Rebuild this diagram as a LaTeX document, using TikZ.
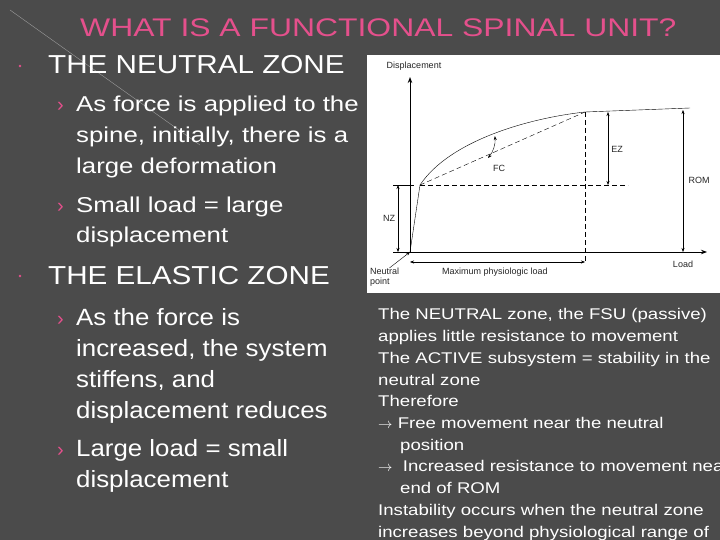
\documentclass[tikz,border=0pt]{standalone}
\usepackage{fontspec}
\setmainfont{Liberation Sans}
\newfontfamily\stA[FakeStretch=1.25]{Liberation Sans}
\newfontfamily\stB[FakeStretch=1.14]{Liberation Sans}
\newfontfamily\stC[FakeStretch=1.2]{Liberation Sans}
\newfontfamily\stD[FakeStretch=1.1]{Liberation Sans}
\usetikzlibrary{arrows.meta}
\definecolor{bg}{HTML}{4B4B4B}
\definecolor{pinkc}{HTML}{E4508C}
\begin{document}
\begin{tikzpicture}[x=1pt,y=-1pt,
  lt/.style={anchor=base west,inner sep=0,text=white},
  gl/.style={inner sep=0,font=\fontsize{9}{10}\selectfont,text=black!85},
  dsh/.style={dash pattern=on 5pt off 3pt,thin},
  dar/.style={{Stealth[length=4pt]}-{Stealth[length=4pt]},thin}]
\fill[bg] (0,0) rectangle (720,540);
\useasboundingbox (0,0) rectangle (720,540);
\draw[white!45!bg,thin] (10,10) -- (200,145);
\node[lt,text=pinkc,font=\stA\fontsize{25.5}{26}\selectfont] (title) at (80,37) {WHAT IS A FUNCTIONAL SPINAL UNIT?};
% left text
\node[lt,font=\stB\fontsize{26}{26}\selectfont] (h1) at (48,74) {THE NEUTRAL ZONE};
\node[lt,font=\stB\fontsize{26}{26}\selectfont] (h2) at (48,284) {THE ELASTIC ZONE};
\fill[pinkc] (20,66) circle (1.3) (20,276) circle (1.3);
\foreach \y/\t in {112/As force is applied to the, 143/{spine, initially, there is a}, 174/large deformation, 212/Small load = large, 243/displacement}
  \node[lt,font=\stC\fontsize{21.5}{22}\selectfont] at (76,\y) {\t};
\foreach \y/\t in {325/As the force is, 356/{increased, the system}, 387/{stiffens, and}, 418/displacement reduces, 456/Large load = small, 487/displacement}
  \node[lt,font=\stD\fontsize{23.5}{24}\selectfont] at (76,\y) {\t};
\foreach \y in {112,212,325,456}
  \node[lt,text=pinkc,font=\fontsize{20}{20}\selectfont] at (57,\y) {›};
% right text
\foreach \y/\t in {319/{The NEUTRAL zone, the FSU (passive)},341/applies little resistance to movement,363/{The ACTIVE subsystem =  stability in the},385/neutral zone,406/Therefore,428/{$\rightarrow$ Free movement near the neutral},450/{\hspace{22pt}position},471/{$\rightarrow$ \ Increased resistance to movement near},493/{\hspace{22pt}end of ROM},515/Instability occurs when the neutral zone,537/increases beyond physiological range of}
  \node[lt,font=\stC\fontsize{15.5}{16}\selectfont] at (378,\y) {\t};
% graph
\fill[white] (367,55) rectangle (720,293);
\coordinate (o) at (410,252);
\coordinate (k) at (420,185);
\coordinate (m) at (585,112);
\draw[-{Stealth[length=6pt]},line width=1pt] (o) -- (410,77);
\draw[-{Stealth[length=6pt]},line width=1pt] (o) -- (707,252);
\node[gl] (disp) at (414,66) {Displacement};
\node[gl] (load) at (683,264) {Load};
\draw[thin] (o) -- (k) .. controls (450,140) and (530,118) .. (m) -- (690,108);
\draw[dsh] (k) -- (m);
\draw[dsh] (k) -- (628,185);
\draw[dsh] (m) -- (585,263);
\draw[dar] (608,112) -- (608,185);
\node[gl] (ez) at (617,149) {EZ};
\draw[dar] (683,110) -- (683,252);
\node[gl] (rom) at (699,180) {ROM};
\draw[thin] (393,185) -- (414,185) (393,252) -- (410,252);
\draw[dar] (398,185) -- (398,252);
\node[gl] (nz) at (389,218) {NZ};
\draw[{Stealth[length=4pt]}-{Stealth[length=4pt]},thin] (488,158) arc[start angle=40,end angle=-5,radius=30];
\node[gl] (fc) at (499,168) {FC};
\draw[dar] (410,262) -- (585,262);
\node[gl] (mpl) at (495,272) {Maximum physiologic load};
\node[gl,align=left,anchor=north west] (np) at (370,268) {Neutral\\point};
\draw[-{Stealth[length=4pt]},thin] (np.north east) ++(-10,0) -- (o);
\end{tikzpicture}
\end{document}
